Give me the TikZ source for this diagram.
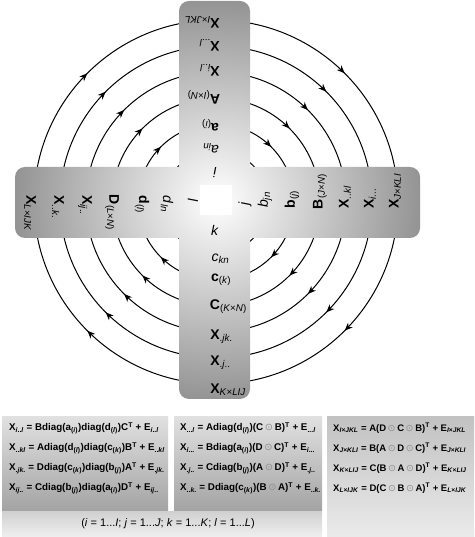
\documentclass[tikz,border=0pt]{standalone}
\usepackage{fontspec}
\setmainfont{Liberation Sans}
\newfontfamily\dvs{DejaVu Sans}
\usetikzlibrary{arrows.meta,decorations.markings}
\newcommand{\sbs}[1]{\textsubscript{#1}}
\newcommand{\sps}[1]{\textsuperscript{#1}}
\newcommand{\armlab}[2]{#1\rlap{\textsubscript{#2}}}
\newcommand{\kr}{\,{\dvs\mdseries\color{black!45}⊙}\,}
\tikzset{
  ring/.style={line width=1pt},
  arrowring/.style={ring, postaction={decorate},
    decoration={markings, mark=at position 0.5 with {\arrow{Stealth[length=8pt,width=6.5pt,inset=2.5pt]}}}},
  arm/.style={inner sep=0pt, font=\fontsize{14}{16}\selectfont},
  eq/.style={anchor=west, inner sep=0pt, font=\fontsize{9.8}{12}\selectfont\bfseries},
  eqs/.style={eq, font=\fontsize{9.5}{11}\selectfont\bfseries},
  foot/.style={inner sep=0pt, font=\fontsize{11}{13}\selectfont},
}
\begin{document}
\begin{tikzpicture}[x=1pt,y=1pt]
\useasboundingbox (0,0) rectangle (474,537);
% rings
\foreach \a in {180,90,0,-90}{
  \foreach \r in {78,104,130,156,182}{
    \draw[arrowring] (216,335) ++(\a:\r) arc[start angle=\a, end angle=\a-90, radius=\r pt];
  }
  \draw[ring] (216,335) ++(\a:52) arc[start angle=\a, end angle=\a-90, radius=52pt];
}
% cross
\shade[inner color=white, outer color=black!42, rounded corners=10pt]
  (179,138) rectangle (250,536) (15,299) rectangle (420,370);
\node[fill=white, minimum width=32pt, minimum height=30pt, inner sep=0pt] (hole) at (216,337) {};
% top arm
\begin{scope}[every node/.style={arm, rotate=180}]
\node (ti) at (215,364) {\textit{i}};
\node (tain) at (215,389) {\armlab{\textit{a}}{\textit{in}}};
\node (tai) at (215,412) {\armlab{\textbf{a}}{(\textit{i})}};
\node (tA) at (215,440) {\armlab{\textbf{A}}{(\textit{I}×\textit{N})}};
\node (tX2) at (215,467) {\armlab{\textbf{X}}{\textit{i}..\textit{l}}};
\node (tX1) at (215,492) {\armlab{\textbf{X}}{...\textit{l}}};
\node (tX0) at (215,515) {\armlab{\textbf{X}}{\textit{I}×\textit{JKL}}};
\end{scope}
% bottom arm
\begin{scope}[every node/.style={arm}]
\node (bk) at (215,307) {\textit{k}};
\node (bckn) at (215,278) {\armlab{\textit{c}}{\textit{kn}}};
\node (bck) at (215,257) {\armlab{\textbf{c}}{(\textit{k})}};
\node (bC) at (215,230) {\armlab{\textbf{C}}{(\textit{K}×\textit{N})}};
\node (bX2) at (215,200) {\armlab{\textbf{X}}{.\textit{jk}.}};
\node (bX1) at (215,174) {\armlab{\textbf{X}}{.\textit{j}..}};
\node (bX0) at (215,147) {\armlab{\textbf{X}}{\textit{K}×\textit{LIJ}}};
\end{scope}
% right arm
\begin{scope}[every node/.style={arm, rotate=90}]
\node (rj) at (245,333) {\textit{j}};
\node (rbjn) at (265,333) {\armlab{\textit{b}}{\textit{jn}}};
\node (rbj) at (292,333) {\armlab{\textbf{b}}{(\textit{j})}};
\node (rB) at (320,333) {\armlab{\textbf{B}}{(\textit{J}×\textit{N})}};
\node (rX2) at (345,333) {\armlab{\textbf{X}}{..\textit{kl}}};
\node (rX1) at (370,333) {\armlab{\textbf{X}}{\textit{i}...}};
\node (rX0) at (395,333) {\armlab{\textbf{X}}{\textit{J}×\textit{KLI}}};
\end{scope}
% left arm
\begin{scope}[every node/.style={arm, rotate=-90}]
\node (ll) at (193,337) {\textit{l}};
\node (ldln) at (167,337) {\armlab{\textit{d}}{\textit{ln}}};
\node (ldl) at (142,337) {\armlab{\textbf{d}}{(\textit{l})}};
\node (lD) at (112,337) {\armlab{\textbf{D}}{(\textit{L}×\textit{N})}};
\node (lX2) at (85,337) {\armlab{\textbf{X}}{\textit{ij}..}};
\node (lX1) at (58,337) {\armlab{\textbf{X}}{..\textit{k}.}};
\node (lX0) at (30,337) {\armlab{\textbf{X}}{\textit{L}×\textit{IJK}}};
\end{scope}
% boxes
\shade[top color=black!12, bottom color=black!36] (2,26) rectangle (168,120);
\shade[top color=black!12, bottom color=black!36] (174,26) rectangle (322,120);
\shade[top color=black!24, bottom color=black!8] (327,0) rectangle (474,120);
\shade[top color=black!18, bottom color=black!6] (2,0) rectangle (322,25);
% box 1
\node[eq] (e11) at (9,109) {X\sbs{\textit{i}..\textit{l}} = Bdiag(a\sbs{(\textit{i})})diag(d\sbs{(\textit{l})})C\sps{T} + E\sbs{\textit{i}..\textit{l}}};
\node[eq] (e12) at (9,89) {X\sbs{..\textit{kl}} = Adiag(d\sbs{(\textit{l})})diag(c\sbs{(\textit{k})})B\sps{T} + E\sbs{..\textit{kl}}};
\node[eq] (e13) at (9,69) {X\sbs{.\textit{jk}.} = Ddiag(c\sbs{(\textit{k})})diag(b\sbs{(\textit{j})})A\sps{T} + E\sbs{.\textit{jk}.}};
\node[eq] (e14) at (9,49) {X\sbs{\textit{ij}..} = Cdiag(b\sbs{(\textit{j})})diag(a\sbs{(\textit{i})})D\sps{T} + E\sbs{\textit{ij}..}};
% box 2
\node[eq] (e21) at (180,109) {X\sbs{...\textit{l}} = Adiag(d\sbs{(\textit{l})})(C\kr B)\sps{T} + E\sbs{...\textit{l}}};
\node[eq] (e22) at (180,89) {X\sbs{\textit{i}...} = Bdiag(a\sbs{(\textit{i})})(D\kr C)\sps{T} + E\sbs{\textit{i}...}};
\node[eq] (e23) at (180,69) {X\sbs{.\textit{j}..} = Cdiag(b\sbs{(\textit{j})})(A\kr D)\sps{T} + E\sbs{.\textit{j}..}};
\node[eq] (e24) at (180,49) {X\sbs{..\textit{k}.} = Ddiag(c\sbs{(\textit{k})})(B\kr A)\sps{T} + E\sbs{..\textit{k}.}};
% box 3
\node[eqs] (e31) at (333,109) {X\sbs{\textit{I}×\textit{JKL}} = A(D\kr C\kr B)\sps{T} + E\sbs{\textit{I}×\textit{JKL}}};
\node[eqs] (e32) at (333,89) {X\sbs{\textit{J}×\textit{KLI}} = B(A\kr D\kr C)\sps{T} + E\sbs{\textit{J}×\textit{KLI}}};
\node[eqs] (e33) at (333,69) {X\sbs{\textit{K}×\textit{LIJ}} = C(B\kr A\kr D)\sps{T} + E\sbs{\textit{K}×\textit{LIJ}}};
\node[eqs] (e34) at (333,49) {X\sbs{\textit{L}×\textit{IJK}} = D(C\kr B\kr A)\sps{T} + E\sbs{\textit{L}×\textit{IJK}}};
% footer
\node[foot] (ft) at (168,13) {(\textit{i} = 1...\textit{I}; \textit{j} = 1...\textit{J}; \textit{k} = 1...\textit{K}; \textit{l} = 1...\textit{L})};
\end{tikzpicture}
\end{document}
